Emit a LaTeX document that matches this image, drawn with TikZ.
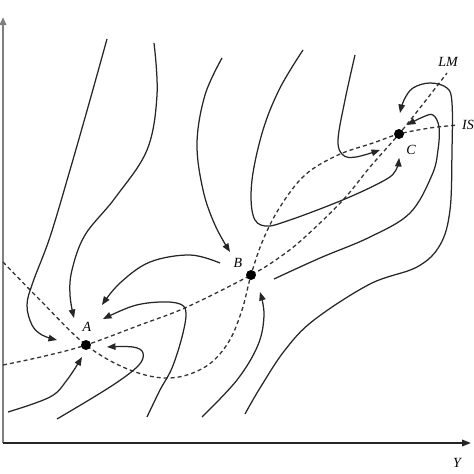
\documentclass[tikz,border=0pt]{standalone}
\usepackage{fontspec}
\setmainfont{Liberation Serif}
\usetikzlibrary{arrows.meta}
\begin{document}
\begin{tikzpicture}[x=1pt,y=-1pt,
  traj/.style={line width=1.25pt, black!85, -{Triangle[length=8.5pt,width=6.5pt]}},
  eqline/.style={line width=1.3pt, black!80, dash pattern=on 4pt off 3pt},
  dot/.style={circle, fill=black, inner sep=0pt, minimum size=10pt},
  lbl/.style={font=\fontsize{14}{16}\selectfont\itshape, inner sep=0pt}]
\useasboundingbox (0,0) rectangle (474,474);
% axes
\coordinate (O) at (3,443);
\coordinate (ytop) at (3,17);
\coordinate (xend) at (471,443);
\draw[gray, line width=2.2pt, -{Triangle[length=8pt,width=6.5pt]}] (O) -- (ytop);
\draw[black!85, line width=1.7pt, -{Triangle[length=9pt,width=6.5pt]}] (O) -- (xend);
\node[lbl] (Ylab) at (457,463) {Y};
% equilibrium loci
\draw[eqline] plot[smooth, tension=0.6] coordinates {(3,365) (45,356) (86,345) (140,325) (187,307) (251,275) (280,257) (305,237) (343,200) (370,167) (399,134) (423,104) (447,73)};
\draw[eqline] plot[smooth, tension=0.6] coordinates {(3,262) (40,300) (86,345) (130,370) (170,378) (205,367) (228,343) (242,310) (251,275) (263,240) (280,207) (305,175) (338,155) (373,143) (399,134) (430,128) (458,125)};
\node[lbl] (LMlab) at (448,62) {LM};
\node[lbl, anchor=west] (ISlab) at (462,125) {IS};
% equilibria
\node[dot] (A) at (86,345) {};
\node[dot] (B) at (251,275) {};
\node[dot] (C) at (399,134) {};
\node[lbl] at (87,327) {A};
\node[lbl] at (238,263) {B};
\node[lbl] at (411,150) {C};
% trajectories
\draw[traj] plot[smooth, tension=0.6] coordinates {(107,39) (90,100) (70,170) (50,237) (33,282) (27,305) (32,325) (42,335) (57,340)};
\draw[traj] plot[smooth, tension=0.6] coordinates {(154,43) (157,95) (147,150) (115,198) (85,235) (72,270) (70,295) (74,318)};
\draw[traj] plot[smooth, tension=0.6] coordinates {(222,58) (205,95) (197,143) (203,190) (215,225) (230,252)};
\draw[traj] plot[smooth, tension=0.6] coordinates {(303,50) (280,88) (263,130) (252,180) (253,215) (265,226) (290,220) (345,199) (385,180) (396,170) (399,158)};
\draw[traj] plot[smooth, tension=0.6] coordinates {(355,55) (345,100) (338,140) (343,155) (356,157) (380,150)};
\draw[traj] plot[smooth, tension=0.6] coordinates {(245,414) (260,388) (285,350) (314,320) (370,284) (417,267) (440,245) (450,210) (452,150) (452,103) (447,88) (430,83) (413,88) (404,100) (400,113)};
\draw[traj] plot[smooth, tension=0.6] coordinates {(274,279) (320,258) (370,237) (410,213) (432,175) (438,150) (439,127) (433,115) (423,117) (407,125)};
\draw[traj] plot[smooth, tension=0.6] coordinates {(220,263) (190,255) (150,262) (120,283) (102,305)};
\draw[traj] plot[smooth, tension=0.6] coordinates {(147,417) (160,390) (172,368) (182,337) (186,313) (180,304) (160,302) (133,306) (103,319)};
\draw[traj] plot[smooth, tension=0.6] coordinates {(8,412) (50,397) (67,380) (82,357)};
\draw[traj] plot[smooth, tension=0.6] coordinates {(57,419) (110,387) (138,366) (143,353) (133,347) (107,347)};
\draw[traj] plot[smooth, tension=0.6] coordinates {(202,417) (237,380) (258,345) (264,315) (260,292)};
\end{tikzpicture}
\end{document}
